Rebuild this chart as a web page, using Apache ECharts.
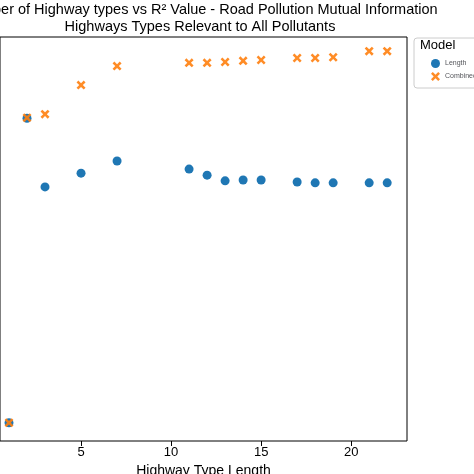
<!DOCTYPE html><html><head><meta charset="utf-8"><script src="https://cdn.jsdelivr.net/npm/echarts@6/dist/echarts.min.js"></script></head><body style="margin:0"><div id="c" style="width:474px;height:474px"></div><script>
const xs=[1,2,3,5,7,11,12,13,14,15,17,18,19,21,22];
const lengthVals=[0.045,0.799,0.629,0.663,0.693,0.673,0.658,0.644,0.646,0.646,0.641,0.639,0.639,0.639,0.639];
const combVals=[0.045,0.80,0.809,0.881,0.928,0.936,0.936,0.938,0.941,0.943,0.948,0.948,0.950,0.965,0.965];
const xTicks=[5,10,15,20];
const X='path://M0,2 L2,0 L5,3 L8,0 L10,2 L7,5 L10,8 L8,10 L5,7 L2,10 L0,8 L3,5 Z';
const c=echarts.init(document.getElementById('c'));
c.setOption({animation:false,
grid:{left:0,right:67,top:37,bottom:33,show:true,borderColor:'#000',borderWidth:1,outerBoundsMode:'none',containLabel:false},
xAxis:{type:'value',min:0.5,max:23.1,name:'Highway Type Length',nameLocation:'middle',nameGap:21,nameTextStyle:{fontSize:14,color:'#000'},
 axisLine:{show:false},splitLine:{show:false},axisTick:{show:true,lineStyle:{color:'#000'},customValues:xTicks},
 axisLabel:{color:'#000',fontSize:13,margin:5,customValues:xTicks}},
yAxis:{type:'value',min:0,max:1,show:false},
legend:{orient:'vertical',left:426,top:54,itemWidth:9,itemHeight:9,itemGap:4,textStyle:{fontSize:7},data:['Length','Combined']},
graphic:[
 {type:'rect',shape:{x:414,y:38,width:80,height:50,r:3},style:{fill:'#fff',stroke:'#ccc'},z:-1},
 {type:'text',style:{x:200,y:2,text:'Number of Highway types vs R² Value - Road Pollution Mutual Information',fontSize:14.5,fill:'#000',textAlign:'center'}},
 {type:'text',style:{x:200,y:19,text:'Highways Types Relevant to All Pollutants',fontSize:14.5,fill:'#000',textAlign:'center'}},
 {type:'text',style:{x:420,y:39,text:'Model',fontSize:13,fill:'#000'}}
],
series:[
 {name:'Length',type:'scatter',symbol:'circle',symbolSize:9,itemStyle:{color:'#1f77b4',opacity:1},data:xs.map((x,i)=>[x,lengthVals[i]])},
 {name:'Combined',type:'scatter',symbol:X,symbolSize:9,itemStyle:{color:'#ff7f0e',opacity:0.9},data:xs.map((x,i)=>[x,combVals[i]])}
]});
</script></body></html>
